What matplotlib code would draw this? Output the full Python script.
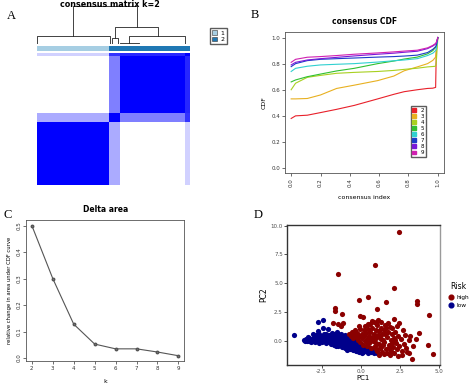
import numpy as np
import matplotlib
matplotlib.use("Agg")
import matplotlib.pyplot as plt
from matplotlib.colors import LinearSegmentedColormap, ListedColormap
from matplotlib.patches import Patch
from matplotlib.lines import Line2D

# ---- A: consensus matrix k=2 ----
seg_sizes = [71, 10, 64, 5]          # samples per block (cluster1, mixed, cluster2, faint)
seg_cluster = [1, 2, 2, 2]
block_vals = [[1.00, 0.33, 0.00, 0.18],
              [0.33, 1.00, 0.50, 0.80],
              [0.00, 0.50, 1.00, 0.85],
              [0.18, 0.80, 0.85, 1.00]]
# dendrogram merges: left x, right x, height, left child height, right child height
dend_xl = [0.236, 0.000, 0.509, 0.487, 0.602, 0.542]
dend_xr = [0.651, 0.476, 0.792, 0.530, 0.967, 0.668]
dend_h = [1.000, 0.217, 0.460, 0.157, 0.217, 0.040]
dend_hl = [0.217, 0.000, 0.157, 0.000, 0.040, 0.000]
dend_hr = [0.460, 0.000, 0.217, 0.000, 0.000, 0.000]

# ---- B: consensus CDF ----
cdf_k = ["2", "3", "4", "5", "6", "7", "8", "9"]
cdf_colors = ["#E8202A", "#E8B020", "#A8D020", "#30C030", "#30D0D0", "#1C3CC8", "#7A18D8", "#D020B0"]
cdf_x = [0.0, 0.03, 0.11, 0.2, 0.31, 0.43, 0.59, 0.7, 0.77, 0.86, 0.93, 0.966, 0.985, 0.99, 1.0]
cdf_y = [
    [0.38, 0.40, 0.405, 0.425, 0.45, 0.48, 0.53, 0.565, 0.585, 0.600, 0.610, 0.612, 0.618, 0.93, 1.0],
    [0.53, 0.53, 0.533, 0.56, 0.61, 0.635, 0.67, 0.705, 0.745, 0.775, 0.80, 0.825, 0.85, 0.90, 1.0],
    [0.60, 0.65, 0.695, 0.71, 0.726, 0.733, 0.740, 0.748, 0.756, 0.765, 0.775, 0.778, 0.780, 0.82, 1.0],
    [0.66, 0.675, 0.700, 0.72, 0.744, 0.764, 0.80, 0.82, 0.835, 0.85, 0.875, 0.90, 0.925, 0.94, 1.0],
    [0.74, 0.764, 0.780, 0.79, 0.795, 0.80, 0.812, 0.822, 0.828, 0.838, 0.862, 0.88, 0.900, 0.91, 1.0],
    [0.777, 0.80, 0.823, 0.833, 0.838, 0.843, 0.850, 0.854, 0.858, 0.865, 0.885, 0.91, 0.930, 0.94, 1.0],
    [0.79, 0.81, 0.828, 0.838, 0.848, 0.859, 0.872, 0.880, 0.887, 0.895, 0.915, 0.935, 0.950, 0.96, 1.0],
    [0.81, 0.833, 0.849, 0.854, 0.862, 0.872, 0.882, 0.890, 0.896, 0.903, 0.921, 0.94, 0.955, 0.965, 1.0],
]

# ---- C: delta area ----
delta_k = [2, 3, 4, 5, 6, 7, 8, 9]
delta_val = [0.50, 0.30, 0.128, 0.053, 0.035, 0.035, 0.023, 0.009]

# ---- D: PCA ----
low_pts = [
    (-4.24, 0.52), (-3.60, 0.08), (-3.52, 0.17), (-3.45, 0.02), (-3.40, 0.12), (-3.32, -0.04), (-3.28, 0.20),
    (-3.20, 0.06), (-3.15, -0.10), (-3.10, 0.15), (-3.05, 0.60), (-3.02, 0.02), (-2.96, 0.28), (-2.92, -0.08),
    (-2.88, 0.48), (-2.85, 0.12), (-2.80, -0.02), (-2.75, 0.84), (-2.75, 1.59), (-2.72, 0.30), (-2.68, 0.05),
    (-2.63, -0.15), (-2.60, 0.20), (-2.55, 0.45), (-2.50, 0.02), (-2.46, -0.10), (-2.42, 1.77), (-2.42, 1.13),
    (-2.40, 0.28), (-2.36, 0.10), (-2.32, 0.55), (-2.28, -0.05), (-2.24, 0.18), (-2.20, -0.22), (-2.16, 0.36),
    (-2.08, 1.04), (-2.10, 0.08), (-2.05, -0.12), (-2.00, 0.50), (-1.96, 0.22), (-1.92, -0.28), (-1.88, 0.05),
    (-1.85, 0.68), (-1.80, 0.35), (-1.76, -0.08), (-1.72, 0.15), (-1.68, -0.35), (-1.64, 0.48), (-1.60, 0.25),
    (-1.56, -0.15), (-1.52, 0.78), (-1.48, 0.05), (-1.45, -0.42), (-1.42, 0.55), (-1.38, 0.20), (-1.35, -0.22),
    (-1.30, 0.38), (-1.28, -0.02), (-1.24, 0.62), (-1.22, -0.50), (-1.18, 0.15), (-1.14, -0.28), (-1.10, 0.32),
    (-1.06, -0.05), (-1.03, -0.60), (-1.00, 0.48), (-0.96, 0.10), (-0.93, -0.38), (-0.90, 0.25), (-0.86, -0.15),
    (-0.83, -0.65), (-0.80, 0.36), (-0.76, 0.00), (-0.73, -0.45), (-0.70, 0.15), (-0.66, -0.72), (-0.63, -0.22),
    (-0.60, 0.22), (-0.56, -0.52), (-0.53, -0.05), (-0.50, -0.82), (-0.47, -0.32), (-0.43, 0.05), (-0.40, -0.62),
    (-0.36, -0.15), (-0.33, -0.90), (-0.29, -0.45), (-0.25, -0.05), (-0.21, -0.72), (-0.17, -0.30), (-0.12, -0.95),
    (-0.07, -0.55), (-0.02, -0.22), (0.04, -0.82), (0.10, -0.48), (0.16, -1.00), (0.22, -0.66), (0.30, -0.90),
    (0.38, -0.58), (0.46, -1.05), (0.55, -0.82), (0.64, -1.00), (0.74, -0.75), (0.84, -1.06), (0.95, -0.92),
    (1.05, -1.10), (-3.00, 0.35), (-2.65, 0.62), (-2.30, 0.35), (-1.95, 0.05), (-1.70, 0.58), (-1.55, 0.35),
    (-1.35, 0.05), (-1.20, -0.15), (-1.05, 0.20), (-0.90, -0.05), (-0.75, -0.25), (-0.60, -0.35), (-0.45, -0.45),
    (-0.30, -0.25), (-0.15, -0.60), (0.00, -0.65), (0.20, -0.85), (0.35, -0.75), (-2.85, 0.25), (-2.50, 0.15),
    (-1.80, -0.20), (-1.45, -0.10), (-1.10, -0.40), (-0.70, -0.55), (-0.95, -0.55), (-1.30, -0.35),
    (-3.55, -0.02), (-3.35, 0.30), (-2.20, 0.60), (-1.60, -0.45), (-0.85, -0.80), (-0.55, -0.75), (-0.25, -0.85),
    (0.10, -1.05), (0.62, -0.60), (0.85, -0.85),
]
high_pts = [
    (2.42, 9.48), (0.91, 6.61), (-1.46, 5.77), (2.14, 4.61), (-0.11, 3.57), (0.44, 3.83), (1.59, 3.36),
    (3.58, 3.48), (3.60, 3.22), (1.06, 2.75), (-1.65, 2.81), (-1.63, 2.58), (-1.19, 2.35), (-0.02, 2.14),
    (0.15, 2.09), (4.36, 2.23), (-1.80, 1.57), (-1.46, 1.48), (-1.12, 1.57), (-1.25, 1.25), (2.12, 1.88),
    (2.46, 1.57), (2.69, 0.96), (3.16, 0.41), (3.73, 0.67), (3.54, 0.12), (4.28, -0.35), (4.62, -1.13),
    (3.26, -1.57), (2.97, -0.96), (2.63, -1.25), (2.01, 1.07), (1.10, 1.80), (1.29, 1.65),
    (-0.75, 0.55), (-0.62, 0.40), (-0.55, 0.75), (-0.48, 0.20), (-0.40, 0.55), (-0.35, 0.95), (-0.30, 0.30),
    (-0.22, 0.70), (-0.18, 0.05), (-0.12, 0.45), (-0.05, 1.05), (-0.02, -0.10), (0.05, 0.62), (0.08, 0.25),
    (0.12, -0.35), (0.18, 0.90), (0.22, 0.40), (0.26, -0.05), (0.30, 1.25), (0.34, 0.70), (0.38, -0.45),
    (0.42, 0.15), (0.46, 1.05), (0.50, 0.45), (0.54, -0.20), (0.58, 1.45), (0.62, 0.80), (0.66, -0.60),
    (0.70, 0.25), (0.74, 1.15), (0.78, -0.05), (0.82, 0.55), (0.86, 1.60), (0.90, -0.45), (0.94, 0.95),
    (0.98, 0.20), (1.02, -0.85), (1.06, 1.35), (1.10, 0.50), (1.14, -0.25), (1.18, 0.85), (1.22, -0.65),
    (1.26, 0.15), (1.30, 1.15), (1.34, -1.00), (1.38, 0.55), (1.42, -0.40), (1.46, 0.95), (1.50, -0.10),
    (1.55, 1.40), (1.60, -0.75), (1.65, 0.35), (1.70, -1.10), (1.75, 0.75), (1.80, -0.35), (1.85, 1.20),
    (1.90, 0.05), (1.95, -0.85), (2.00, 0.55), (2.05, -0.50), (2.10, 0.25), (2.15, -1.10), (2.20, 0.80),
    (2.25, -0.20), (2.30, -0.75), (2.35, 0.40), (2.45, -0.45), (2.55, 0.15), (2.60, -0.85), (2.75, -0.30),
    (2.85, 0.50), (2.90, -0.60), (3.05, 0.05), (3.10, -1.10), (3.30, -0.45), (1.15, -1.20), (1.45, -1.15),
    (1.85, -1.25), (2.40, -1.30), (0.70, 1.75), (1.00, 1.55), (0.45, 1.50), (-0.10, 1.30), (1.60, 1.10),
    (1.75, 1.55), (2.30, 1.30), (0.95, -0.70), (1.30, -0.55), (1.55, 0.60), (1.20, 0.30), (0.80, 0.35),
    (0.60, 0.05), (0.40, -0.15), (1.00, -0.20), (1.40, 0.10), (1.80, -0.60), (2.00, -0.15), (2.20, 0.05),
]

W, H = 474, 384


def rect(l, t, r, b):
    return [l / W, 1 - b / H, (r - l) / W, (b - t) / H]


fig = plt.figure(figsize=(W / 100, H / 100), dpi=100)
serif = "Liberation Serif"

# ===== Panel A =====
idx = np.repeat(np.arange(len(seg_sizes)), seg_sizes)
mat = np.array(block_vals)[idx][:, idx]
cmap = LinearSegmentedColormap.from_list("wb", ["white", "#0000FF"])

axA = fig.add_axes(rect(37.3, 52.7, 190, 185))
axA.imshow(mat, cmap=cmap, vmin=0, vmax=1, origin="lower", aspect="auto",
           extent=(0, 1, 0, 1), interpolation="nearest")
axA.axis("off")

axAb = fig.add_axes(rect(37.3, 45.7, 190, 51))
clus = np.array(seg_cluster)[idx][None, :]
axAb.imshow(clus, cmap=ListedColormap(["#A6CEE3", "#1F78B4"]),
            aspect="auto", extent=(0, 1, 0, 1), interpolation="nearest")
axAb.axis("off")

axAd = fig.add_axes(rect(37.3, 5, 190, 44.3))
for xl, xr, h, hl, hr in zip(dend_xl, dend_xr, dend_h, dend_hl, dend_hr):
    axAd.plot([xl, xl, xr, xr], [hl, h, h, hr], color="#222222", lw=0.6)
axAd.set_xlim(0, 1)
axAd.set_ylim(0, 1.026)
axAd.axis("off")

fig.text(110 / W, 1 - 4.5 / H, "consensus matrix k=2", ha="center", va="center",
         fontsize=5.8, fontweight="bold")
fig.legend(handles=[Patch(facecolor="#A6CEE3", edgecolor="#333333", lw=0.4, label="1"),
                    Patch(facecolor="#1F78B4", edgecolor="#333333", lw=0.4, label="2")],
           loc="upper left", bbox_to_anchor=(207 / W, 1 - 25 / H), fontsize=4.5,
           frameon=True, fancybox=False, edgecolor="#333333", handlelength=0.8,
           handleheight=0.8, handletextpad=0.6, borderpad=0.3, labelspacing=0.15)

# ===== Panel B =====
axB = fig.add_axes(rect(285.3, 32.3, 443.7, 173.3))
for k, c, y in zip(cdf_k, cdf_colors, cdf_y):
    axB.plot(cdf_x, y, color=c, lw=0.8)
axB.set_xlim(-0.04, 1.04)
axB.set_ylim(-0.04, 1.04)
axB.set_xticks([0, 0.2, 0.4, 0.6, 0.8, 1.0])
axB.set_yticks([0, 0.2, 0.4, 0.6, 0.8, 1.0])
axB.set_xticklabels(["0.0", "0.2", "0.4", "0.6", "0.8", "1.0"], rotation=90)
axB.set_yticklabels(["0.0", "0.2", "0.4", "0.6", "0.8", "1.0"])
axB.tick_params(labelsize=4, length=2, width=0.5, pad=1.5, colors="#333333")
for s in axB.spines.values():
    s.set_linewidth(0.6)
    s.set_color("#555555")
axB.set_title("consensus CDF", fontsize=5.5, fontweight="bold", pad=6)
axB.set_ylabel("CDF", fontsize=4.5, labelpad=4)
axB.set_xlabel("consensus index", fontsize=4.5, labelpad=6)
axB.legend(handles=[Patch(facecolor=c, edgecolor=c, label=k) for k, c in zip(cdf_k, cdf_colors)],
           loc="upper left", bbox_to_anchor=(0.773, 0.499), fontsize=4.0, frameon=True,
           fancybox=False, edgecolor="#333333", handlelength=0.7, handleheight=0.7,
           handletextpad=0.8, borderpad=0.35, labelspacing=0.2)

# ===== Panel C =====
axC = fig.add_axes(rect(26, 220.3, 184.3, 361.3))
axC.plot(delta_k, delta_val, color="#555555", lw=0.8, marker="o", ms=1.8,
         mfc="#777777", mec="#555555")
axC.set_xlim(1.72, 9.28)
axC.set_ylim(-0.012, 0.52)
axC.set_xticks(delta_k)
axC.set_yticks([0, 0.1, 0.2, 0.3, 0.4, 0.5])
axC.set_yticklabels(["0.0", "0.1", "0.2", "0.3", "0.4", "0.5"], rotation=90, va="center")
axC.tick_params(labelsize=4, length=2, width=0.5, pad=1.5, colors="#333333")
for s in axC.spines.values():
    s.set_linewidth(0.6)
    s.set_color("#555555")
axC.set_title("Delta area", fontsize=5.5, fontweight="bold", pad=6)
axC.set_ylabel("relative change in area under CDF curve", fontsize=3.8, labelpad=3)
axC.set_xlabel("k", fontsize=4.5, labelpad=6)

# ===== Panel D =====
axD = fig.add_axes(rect(287, 225, 440, 365))
lx, ly = np.array(low_pts).T
hx, hy = np.array(high_pts).T
axD.scatter(lx, ly, s=14, color="#00008B", linewidths=0)
axD.scatter(hx, hy, s=14, color="#8B0000", linewidths=0)
axD.set_xlim(-4.7, 5.05)
axD.set_ylim(-2.1, 10.05)
axD.set_xticks([-2.5, 0, 2.5, 5.0])
axD.set_xticklabels(["-2.5", "0.0", "2.5", "5.0"])
axD.set_yticks([0, 2.5, 5.0, 7.5, 10.0])
axD.set_yticklabels(["0.0", "2.5", "5.0", "7.5", "10.0"])
axD.tick_params(labelsize=4, length=2, width=0.6, pad=1.0, labelcolor="#4D4D4D", color="#333333")
for name, s in axD.spines.items():
    s.set_linewidth(1.0)
    s.set_color("#333333" if name != "right" else "#9A9A9A")
axD.set_xlabel("PC1", fontsize=5, va="center")
axD.xaxis.set_label_coords(0.5, -0.09)
axD.set_ylabel("PC2", fontsize=5.5, labelpad=2)
fig.legend(handles=[Line2D([], [], ls="", marker="o", ms=3.4, color="#8B0000", label="high"),
                    Line2D([], [], ls="", marker="o", ms=3.4, color="#00008B", label="low")],
           title="Risk", title_fontsize=5.5, loc="upper left", bbox_to_anchor=(444 / W, 1 - 278 / H),
           fontsize=4.2, frameon=False, handlelength=1.0, handletextpad=0.4, labelspacing=0.6,
           borderpad=0.2)

# panel letters
for lab, px, py in [("A", 7, 16), ("B", 251, 15), ("C", 4, 215), ("D", 254, 215)]:
    fig.text(px / W, 1 - py / H, lab, fontsize=9, family=serif, ha="left", va="center")

fig.savefig("out.png", dpi=100)
